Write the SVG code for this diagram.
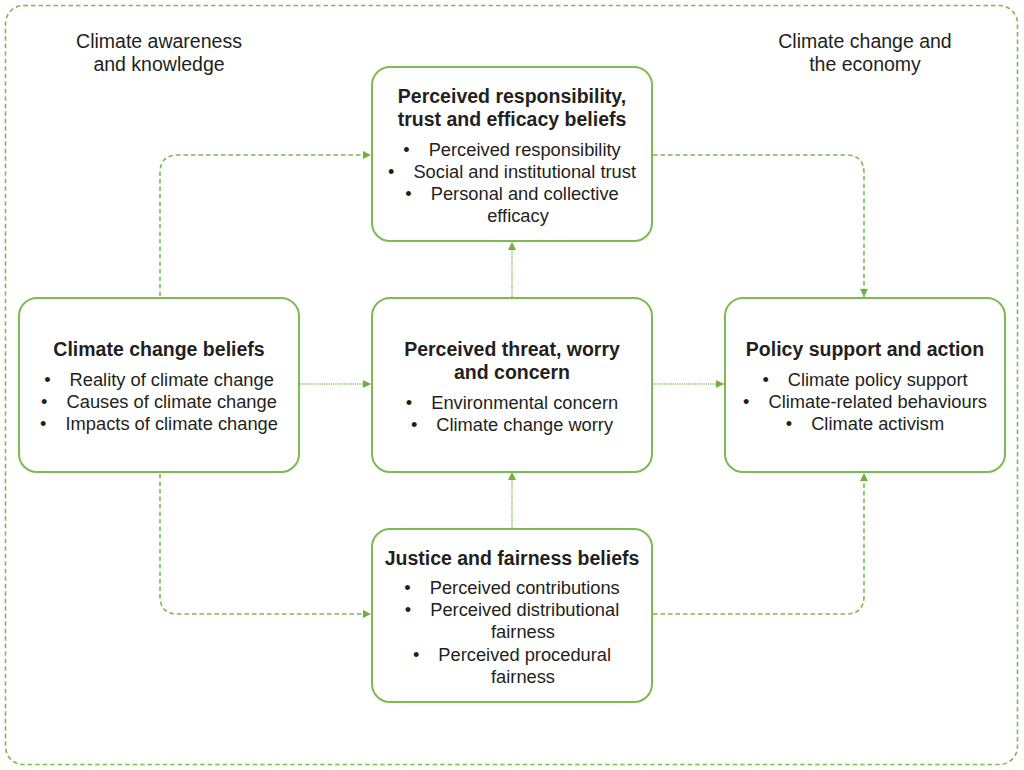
<svg xmlns="http://www.w3.org/2000/svg" width="1024" height="770" viewBox="0 0 1024 770">
<style>
.box{fill:#fff;stroke:#7bbb4f;stroke-width:2}
.t{font-family:"Liberation Sans",Arial,sans-serif;font-size:19.5px;font-weight:bold;fill:#231f20;text-anchor:middle}
.i{font-family:"Liberation Sans",Arial,sans-serif;font-size:18.3px;fill:#231f20;text-anchor:middle}
.lab{font-family:"Liberation Sans",Arial,sans-serif;font-size:19.5px;fill:#231f20;text-anchor:middle}
.dash{fill:none;stroke:#7bbb4f;stroke-width:1.6;stroke-dasharray:4.5 3}
.dot{fill:none;stroke:#8cc466;stroke-width:1.6;stroke-dasharray:1.2 1}
</style>
<defs>
<marker id="ah" viewBox="0 0 10 10" refX="10" refY="5" markerWidth="10" markerHeight="8" markerUnits="userSpaceOnUse" orient="auto">
<path d="M0,0 L10,5 L0,10 Z" fill="#6fb13f"/>
</marker>
</defs>
<rect x="5.5" y="5.5" width="1012" height="759" rx="18" fill="none" stroke="#7bbb4f" stroke-width="1.6" stroke-dasharray="4.5 3"/>
<g id="labels">
<text class="lab" x="159" y="48">Climate awareness</text>
<text class="lab" x="159" y="71">and knowledge</text>
<text class="lab" x="865" y="48">Climate change and</text>
<text class="lab" x="865" y="71">the economy</text>
</g>
<g id="connectors">
<path class="dash" d="M160,296 V173 Q160,155 178,155 H371" marker-end="url(#ah)"/>
<path class="dash" d="M160,474 V596 Q160,614 178,614 H371" marker-end="url(#ah)"/>
<path class="dash" d="M653,155 H846 Q864,155 864,173 V297" marker-end="url(#ah)"/>
<path class="dash" d="M653,614 H846 Q864,614 864,596 V473" marker-end="url(#ah)"/>
<path class="dot" d="M300,384 H371" marker-end="url(#ah)"/>
<path class="dot" d="M653,384 H724" marker-end="url(#ah)"/>
<path class="dot" d="M512,297 V242" marker-end="url(#ah)"/>
<path class="dot" d="M512,528 V472" marker-end="url(#ah)"/>
</g>
<g id="top">
<rect class="box" x="372" y="67" width="280" height="174" rx="18"/>
<text class="t" x="512" y="103">Perceived responsibility,</text>
<text class="t" x="512" y="126">trust and efficacy beliefs</text>
<text class="i" x="512" y="156">•<tspan dx="19">Perceived responsibility</tspan></text>
<text class="i" x="512" y="178">•<tspan dx="19">Social and institutional trust</tspan></text>
<text class="i" x="512" y="200">•<tspan dx="19">Personal and collective</tspan></text>
<text class="i" x="518" y="222">efficacy</text>
</g>
<g id="left">
<rect class="box" x="19" y="298" width="280" height="174" rx="18"/>
<text class="t" x="159" y="356">Climate change beliefs</text>
<text class="i" x="159" y="386">•<tspan dx="19">Reality of climate change</tspan></text>
<text class="i" x="159" y="408">•<tspan dx="19">Causes of climate change</tspan></text>
<text class="i" x="159" y="430">•<tspan dx="19">Impacts of climate change</tspan></text>
</g>
<g id="middle">
<rect class="box" x="372" y="298" width="280" height="174" rx="18"/>
<text class="t" x="512" y="356">Perceived threat, worry</text>
<text class="t" x="512" y="379">and concern</text>
<text class="i" x="512" y="409">•<tspan dx="19">Environmental concern</tspan></text>
<text class="i" x="512" y="431">•<tspan dx="19">Climate change worry</tspan></text>
</g>
<g id="right">
<rect class="box" x="725" y="298" width="280" height="174" rx="18"/>
<text class="t" x="865" y="356">Policy support and action</text>
<text class="i" x="865" y="386">•<tspan dx="19">Climate policy support</tspan></text>
<text class="i" x="865" y="408">•<tspan dx="19">Climate-related behaviours</tspan></text>
<text class="i" x="865" y="430">•<tspan dx="19">Climate activism</tspan></text>
</g>
<g id="bottom">
<rect class="box" x="372" y="529" width="280" height="173" rx="18"/>
<text class="t" x="512" y="565">Justice and fairness beliefs</text>
<text class="i" x="512" y="594">•<tspan dx="19">Perceived contributions</tspan></text>
<text class="i" x="512" y="616">•<tspan dx="19">Perceived distributional</tspan></text>
<text class="i" x="523" y="638">fairness</text>
<text class="i" x="512" y="661">•<tspan dx="19">Perceived procedural</tspan></text>
<text class="i" x="523" y="683">fairness</text>
</g>
</svg>
